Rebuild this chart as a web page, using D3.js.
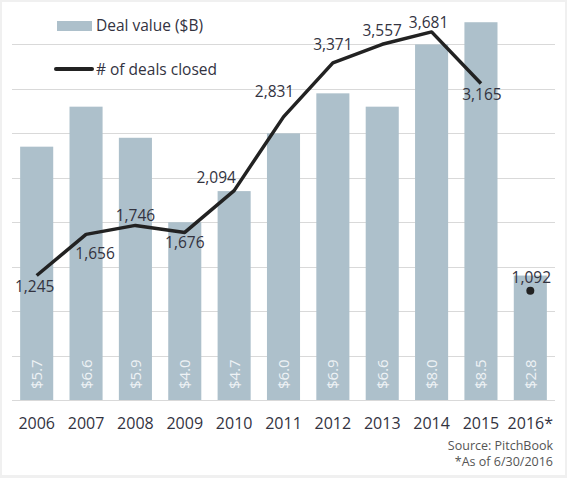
<!DOCTYPE html>
<html>
<head>
<meta charset="utf-8">
<script src="https://cdn.jsdelivr.net/npm/d3@7"></script>
<style>
  html, body { margin: 0; padding: 0; background: #f0f0f0; }
  #chart { position: absolute; left: 0; top: 0; }
  text { font-family: "Open Sans", "Noto Sans", sans-serif; }
</style>
</head>
<body>
<div id="chart"></div>
<script>
// chart data
var years = ["2006", "2007", "2008", "2009", "2010", "2011", "2012", "2013", "2014", "2015", "2016*"];
var dealValue = [5.7, 6.6, 5.9, 4.0, 4.7, 6.0, 6.9, 6.6, 8.0, 8.5, 2.8];
var dealCount = [1245, 1656, 1746, 1676, 2094, 2831, 3371, 3557, 3681, 3165, 1092];
var valueTicks = [0, 1, 2, 3, 4, 5, 6, 7, 8];

var width = 567, height = 478;
var baseY = 400;
var ink = "#33333f";

var svg = d3.select("#chart")
  .append("svg")
  .attr("width", width)
  .attr("height", height);

// white card with a thin grey frame
svg.append("rect")
  .attr("x", 2).attr("y", 2)
  .attr("width", 563).attr("height", 473)
  .attr("fill", "#fff");

var x = d3.scaleBand()
  .domain(years)
  .range([12, 555])
  .paddingInner(0.33)
  .paddingOuter(0.165);

var yVal = d3.scaleLinear().domain([0, 9]).range([baseY, 0]);
var yCnt = d3.scaleLinear().domain([0, 4000]).range([baseY, 0]);

// gridlines
svg.append("g")
  .selectAll("line")
  .data(valueTicks)
  .enter()
  .append("line")
  .attr("x1", 12).attr("x2", 555)
  .attr("y1", function(d) { return Math.round(yVal(d)) + 0.5; })
  .attr("y2", function(d) { return Math.round(yVal(d)) + 0.5; })
  .attr("stroke", "#d9d9d9")
  .attr("stroke-width", 1);

// bars
svg.append("g")
  .selectAll("rect")
  .data(dealValue)
  .enter()
  .append("rect")
  .attr("x", function(d, i) { return x(years[i]); })
  .attr("y", function(d) { return yVal(d); })
  .attr("width", x.bandwidth())
  .attr("height", function(d) { return baseY - yVal(d); })
  .attr("fill", "#adc0cb");

// value labels inside bars (rotated)
svg.append("g")
  .selectAll("text")
  .data(dealValue)
  .enter()
  .append("text")
  .attr("transform", function(d, i) {
    var cx = x(years[i]) + x.bandwidth() / 2 + 5.5;
    return "translate(" + cx + "," + (baseY - 11) + ") rotate(-90)";
  })
  .attr("font-size", "15px")
  .attr("fill", "#eef2f5")
  .text(function(d) { return "$" + d.toFixed(1); });

// year axis labels
var xAxis = d3.axisBottom(x).tickSize(0).tickPadding(0);
var gx = svg.append("g")
  .attr("transform", "translate(0," + 417 + ")")
  .call(xAxis);
gx.select(".domain").remove();
gx.selectAll("text")
  .attr("dy", "0.72em")
  .attr("font-size", "16px")
  .attr("font-family", "\"Open Sans\", sans-serif")
  .attr("fill", ink);

// line of deals (2006 to 2015); 2016 shown as a lone dot
var lineYears = years.slice(0, 10);
var line = d3.line()
  .x(function(d, i) { return x(lineYears[i]) + x.bandwidth() / 2; })
  .y(function(d) { return yCnt(d); });

svg.append("path")
  .datum(dealCount.slice(0, 10))
  .attr("d", line)
  .attr("fill", "none")
  .attr("stroke", "#222")
  .attr("stroke-width", 3.5)
  .attr("stroke-linejoin", "round");

svg.append("circle")
  .attr("cx", x(years[10]) + x.bandwidth() / 2)
  .attr("cy", yCnt(dealCount[10]))
  .attr("r", 4)
  .attr("fill", "#222");

// count labels, nudged around the line like the original
var nudge = [[-2, 16], [9, 25], [0, -4], [0, 16], [-18, -8], [-9, -20],
             [0, -13], [0, -8], [-3, -4], [1, 16.5], [1, -8]];

svg.append("g")
  .selectAll("text")
  .data(dealCount)
  .enter()
  .append("text")
  .attr("x", function(d, i) { return x(years[i]) + x.bandwidth() / 2 + nudge[i][0]; })
  .attr("y", function(d, i) { return yCnt(d) + nudge[i][1]; })
  .attr("text-anchor", "middle")
  .attr("font-size", "15.5px")
  .attr("fill", ink)
  .text(function(d) { return d3.format(",")(d); });

// legend
var legend = svg.append("g");
legend.append("rect")
  .attr("x", 57).attr("y", 21)
  .attr("width", 35).attr("height", 10)
  .attr("fill", "#adc0cb");
legend.append("text")
  .attr("x", 96).attr("y", 31)
  .attr("font-size", "15.5px")
  .attr("fill", ink)
  .text("Deal value ($B)");
legend.append("line")
  .attr("x1", 56).attr("x2", 92)
  .attr("y1", 69).attr("y2", 69)
  .attr("stroke", "#222")
  .attr("stroke-width", 4)
  .attr("stroke-linecap", "round");
legend.append("text")
  .attr("x", 96).attr("y", 75)
  .attr("font-size", "15.5px")
  .attr("fill", ink)
  .text("# of deals closed");

// source notes
svg.append("text")
  .attr("x", 553).attr("y", 450)
  .attr("text-anchor", "end")
  .attr("font-size", "12.5px")
  .attr("fill", "#555")
  .text("Source: PitchBook");
svg.append("text")
  .attr("x", 553).attr("y", 466)
  .attr("text-anchor", "end")
  .attr("font-size", "12.5px")
  .attr("fill", "#555")
  .text("*As of 6/30/2016");
</script>
</body>
</html>
